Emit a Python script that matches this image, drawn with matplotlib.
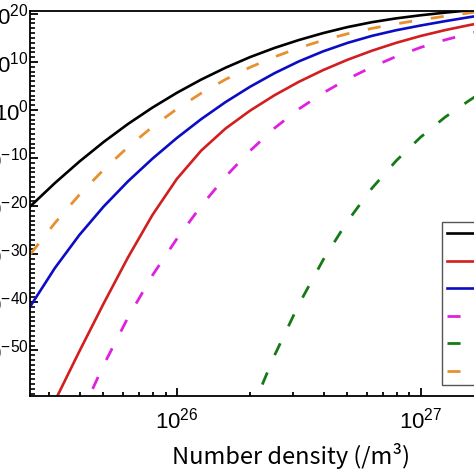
import numpy as np
import matplotlib
matplotlib.use("Agg")
import matplotlib.pyplot as plt
from matplotlib.ticker import FixedLocator, LogFormatterMathtext, NullFormatter

plt.rcParams["font.family"] = ["Liberation Sans", "DejaVu Sans"]
plt.rcParams["mathtext.fontset"] = "custom"
plt.rcParams["mathtext.rm"] = "Liberation Sans"
plt.rcParams["mathtext.it"] = "Liberation Sans:italic"
plt.rcParams["xtick.direction"] = "in"
plt.rcParams["ytick.direction"] = "in"
plt.rcParams["xtick.major.size"] = 6
plt.rcParams["xtick.minor.size"] = 3.2
plt.rcParams["ytick.major.size"] = 6
plt.rcParams["ytick.minor.size"] = 3.8
plt.rcParams["xtick.major.width"] = 1.3
plt.rcParams["xtick.minor.width"] = 1.3
plt.rcParams["ytick.major.width"] = 1.3
plt.rcParams["ytick.minor.width"] = 1.2

nan = np.nan

# log10 of number density (/m^3)
log_n = [25.4, 25.5, 25.6, 25.7, 25.8, 25.9, 26.0, 26.1, 26.2, 26.3,
         26.4, 26.5, 26.6, 26.7, 26.8, 26.9, 27.0, 27.1, 27.2, 27.25]

# log10 of the plotted quantity
black = [-20.0, -15.2, -10.75, -6.65, -2.9, 0.5, 3.57, 6.33, 8.8, 11.0,
         12.9, 14.55, 16.0, 17.25, 18.27, 19.07, 19.71, 20.26, 20.74, 20.97]
red = [nan, -60.55, -50.25, -40.25, -30.65, -21.85, -14.35, -8.45, -3.85, -0.15,
       3.05, 5.85, 8.3, 10.45, 12.33, 13.98, 15.4, 16.62, 17.67, 18.15]
blue = [-40.78, -32.88, -26.03, -20.08, -14.83, -10.13, -5.83, -1.9, 1.65, 4.82,
        7.64, 10.1, 12.2, 13.96, 15.42, 16.6, 17.58, 18.48, 19.32, 19.7]
magenta = [nan, nan, -64.06, -53.06, -43.16, -34.41, -26.81, -19.96, -13.86, -8.51,
           -3.81, 0.19, 3.54, 6.44, 8.94, 11.14, 13.02, 14.59, 15.89, 16.5]
green = [nan, nan, nan, nan, nan, nan, nan, nan, nan, -63.25,
         -51.15, -40.5, -31.2, -23.15, -16.3, -10.55, -5.65, -1.5, 2.0, 3.65]
orange = [-29.96, -23.51, -17.66, -12.41, -7.71, -3.51, 0.21, 3.49, 6.37, 8.87,
          11.04, 12.91, 14.51, 15.86, 16.98, 17.93, 18.76, 19.51, 20.21, 20.55]

labels = ["1", "2", "3", "4", "5", "6"]

series = [
    (black, "#000000", "-"),
    (red, "#d21e1e", "-"),
    (blue, "#0c0cc4", "-"),
    (magenta, "#e020e0", "--"),
    (green, "#157a15", "--"),
    (orange, "#e8902e", "--"),
]

fig = plt.figure(figsize=(4.74, 4.74), dpi=100)
# axes runs past the right edge of the picture (the reference is cropped)
ax = fig.add_axes([30 / 474, 1 - 395.5 / 474, 464 / 474, 384.5 / 474])

n = 10.0 ** np.array(log_n)
for (vals, color, ls), lab in zip(series, labels):
    y = 10.0 ** np.array(vals)
    if ls == "-":
        ax.plot(n, y, color=color, lw=1.9, label=lab, solid_joinstyle="round")
    else:
        ax.plot(n, y, color=color, lw=2.0, dashes=(4.7, 6.8), label=lab)

ax.set_xscale("log")
ax.set_yscale("log")
ax.set_xlim(2.5e25, 2e27)
ax.set_ylim(10 ** -59.4, 10 ** 20.6)

ax.xaxis.set_major_locator(FixedLocator([1e26, 1e27]))
ax.xaxis.set_minor_locator(FixedLocator([k * 1e25 for k in range(3, 10)]
                                        + [k * 1e26 for k in range(2, 10)]
                                        + [2e27]))
ax.xaxis.set_major_formatter(LogFormatterMathtext())
ax.xaxis.set_minor_formatter(NullFormatter())
ax.yaxis.set_major_locator(FixedLocator(10.0 ** np.arange(-50, 21, 10)))
ax.yaxis.set_minor_locator(FixedLocator(10.0 ** np.arange(-59, 21, 1)))
ax.yaxis.set_major_formatter(LogFormatterMathtext())
ax.yaxis.set_minor_formatter(NullFormatter())

ax.tick_params(axis="x", which="major", labelsize=16, pad=8.5)
ax.tick_params(axis="y", which="major", labelsize=16, pad=1)

for sp in ax.spines.values():
    sp.set_linewidth(1.3)

ax.set_xlabel("Number density (/m³)", fontsize=17, labelpad=7,
              family=["Noto Sans CJK JP", "DejaVu Sans"])
ax.xaxis.label.set_x((291 - 30) / 464)

leg = ax.legend(loc="upper left", bbox_to_anchor=(0.888, 0.4512), borderaxespad=0,
                fontsize=12, labelspacing=0.75, handlelength=3.0, fancybox=False,
                framealpha=1, edgecolor="#555555", borderpad=0.3)
leg.get_frame().set_linewidth(1.0)

fig.savefig("out.png", dpi=100)
